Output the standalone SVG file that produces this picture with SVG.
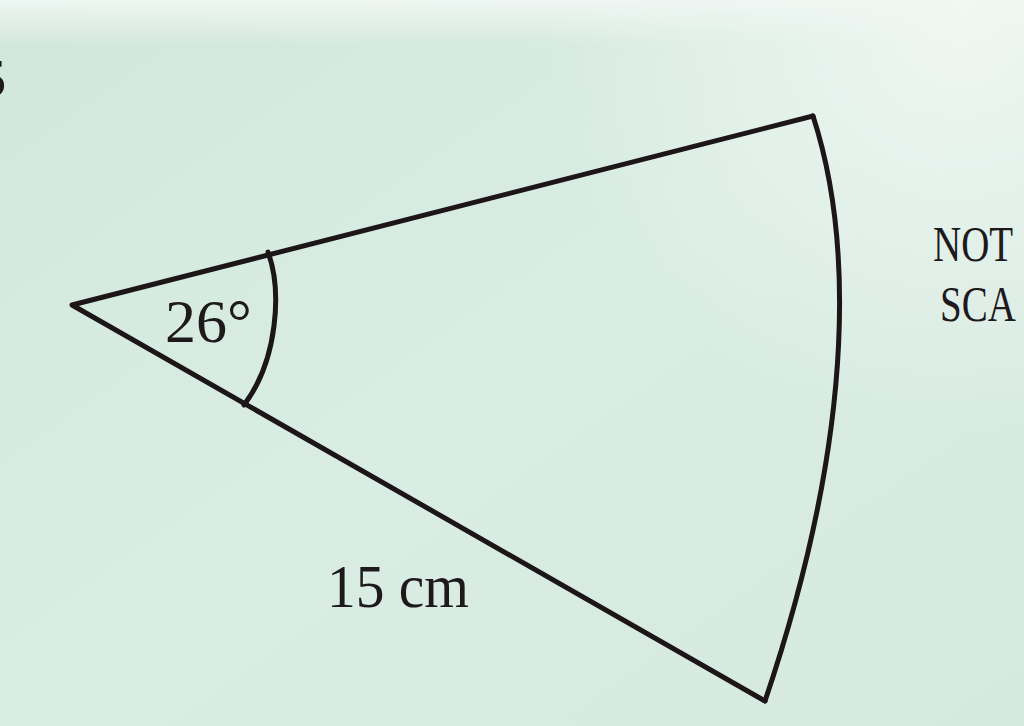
<svg xmlns="http://www.w3.org/2000/svg" width="1024" height="726" viewBox="0 0 1024 726">
<defs>
<linearGradient id="bg" x1="0" y1="0" x2="1" y2="1">
<stop offset="0" stop-color="#d2e7dc"/>
<stop offset="0.5" stop-color="#d9ede4"/>
<stop offset="1" stop-color="#d5e9df"/>
</linearGradient>
<linearGradient id="topband" x1="0" y1="0" x2="0" y2="1">
<stop offset="0" stop-color="#f2f8f5" stop-opacity="0.9"/>
<stop offset="1" stop-color="#f2f8f5" stop-opacity="0"/>
</linearGradient>
<radialGradient id="glow" cx="960" cy="20" r="420" gradientUnits="userSpaceOnUse">
<stop offset="0" stop-color="#f1f7f3" stop-opacity="0.95"/>
<stop offset="0.4" stop-color="#eef6f2" stop-opacity="0.6"/>
<stop offset="1" stop-color="#eef6f2" stop-opacity="0"/>
</radialGradient>
<style>
.ln{fill:none;stroke:#1c1618;stroke-width:5;stroke-linecap:round;stroke-linejoin:round}
.t{font-family:"Liberation Serif","Times New Roman",serif;fill:#1e1a1c}
</style>
</defs>
<rect width="1024" height="726" fill="url(#bg)"/>
<rect width="1024" height="45" fill="url(#topband)"/>
<rect width="1024" height="726" fill="url(#glow)"/>
<text class="t" x="-20" y="96" font-size="52" font-weight="bold">5</text>
<g id="sector">
<path class="ln" d="M813,116 L72,305 L765,701"/>
<path class="ln" d="M813,116 C850,230 860,420 765,701"/>
</g>
<g id="angle">
<path class="ln" d="M268,252 C282,290 278,360 244,405"/>
<text class="t" x="165" y="342" font-size="62">26°</text>
</g>
<g id="radius-label">
<text class="t" x="327" y="607" font-size="62" textLength="142" lengthAdjust="spacingAndGlyphs">15 cm</text>
</g>
<g id="note">
<text class="t" transform="translate(933,261) scale(0.78,1)" font-size="50">NOT</text>
<text class="t" transform="translate(940,321) scale(0.78,1)" font-size="50">SCA</text>
</g>
</svg>
